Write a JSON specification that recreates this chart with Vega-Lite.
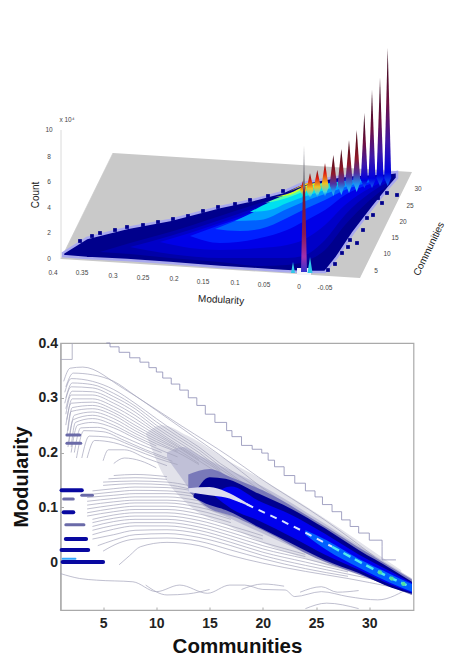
{
"$schema":"https://vega.github.io/schema/vega-lite/v6.json",
"padding":{"left":9.5,"top":0,"right":0,"bottom":0},
"bounds":"flush",
"spacing":8,
"config":{"view":{"stroke":null},"font":"Liberation Sans"},
"datasets":{
"plane":[{"x":61,"y":259,"y2":259},{"x":113,"y":153,"y2":262.3},{"x":360,"y":168.7,"y2":278},{"x":412,"y":172,"y2":172}],
"axis3d":[{"s":"z","x":61,"y":259},{"s":"z","x":61.01,"y":130},{"s":"b","x":61,"y":259},{"s":"b","x":113,"y":153}],
"wedge":[{"x":63,"y":253,"y2":256},{"x":87,"y":238,"y2":258},{"x":127,"y":228,"y2":260},{"x":170,"y":220,"y2":263},{"x":220,"y":207,"y2":267},{"x":253,"y":200,"y2":269},{"x":283,"y":192,"y2":271},{"x":303,"y":183,"y2":272},{"x":325,"y":179,"y2":272},{"x":337,"y":177,"y2":257},{"x":353,"y":175,"y2":233},{"x":373,"y":174,"y2":207},{"x":390,"y":173,"y2":186},{"x":397,"y":172,"y2":178}],
"dots":[{"x":80,"y":241},{"x":92,"y":236},{"x":100,"y":233},{"x":115,"y":230},{"x":127,"y":227},{"x":143,"y":225},{"x":158,"y":222},{"x":173,"y":219},{"x":188,"y":216},{"x":203,"y":211},{"x":218,"y":207},{"x":235,"y":204},{"x":250,"y":200},{"x":268,"y":196},{"x":348,"y":247},{"x":357,"y":243},{"x":363,"y":230},{"x":367,"y":218},{"x":373,"y":215},{"x":382,"y":203},{"x":387,"y":193},{"x":397,"y":195},{"x":378,"y":198},{"x":335,"y":264},{"x":328,"y":270},{"x":342,"y":253},{"x":350,"y":240},{"x":283,"y":191}],
"bands":[
{"s":"b01","x":100,"y":252,"y2":252},{"s":"b01","x":130,"y":243,"y2":254},{"s":"b01","x":170,"y":232,"y2":258},{"s":"b01","x":220,"y":216,"y2":262},{"s":"b01","x":260,"y":203,"y2":266},{"s":"b01","x":287,"y":195,"y2":265},{"s":"b01","x":303,"y":188,"y2":262},{"s":"b01","x":325,"y":182,"y2":250},{"s":"b01","x":345,"y":178,"y2":225},{"s":"b01","x":370,"y":176,"y2":200},{"s":"b01","x":390,"y":175,"y2":184},
{"s":"b02","x":130,"y":247,"y2":247},{"s":"b02","x":170,"y":236,"y2":254},{"s":"b02","x":220,"y":220,"y2":258},{"s":"b02","x":260,"y":206,"y2":258},{"s":"b02","x":287,"y":196,"y2":258},{"s":"b02","x":303,"y":189,"y2":256},{"s":"b02","x":325,"y":183,"y2":240},{"s":"b02","x":345,"y":179,"y2":215},{"s":"b02","x":370,"y":177,"y2":193},{"s":"b02","x":388,"y":176,"y2":182},
{"s":"b03","x":160,"y":242,"y2":242},{"s":"b03","x":190,"y":233,"y2":248},{"s":"b03","x":220,"y":223,"y2":250},{"s":"b03","x":260,"y":209,"y2":248},{"s":"b03","x":287,"y":197,"y2":245},{"s":"b03","x":303,"y":190,"y2":240},{"s":"b03","x":325,"y":184,"y2":225},{"s":"b03","x":345,"y":180,"y2":205},{"s":"b03","x":370,"y":178,"y2":188},{"s":"b03","x":385,"y":177,"y2":181},
{"s":"b04","x":190,"y":236,"y2":236},{"s":"b04","x":220,"y":225,"y2":243},{"s":"b04","x":260,"y":211,"y2":238},{"s":"b04","x":287,"y":198,"y2":230},{"s":"b04","x":303,"y":191,"y2":222},{"s":"b04","x":325,"y":185,"y2":210},{"s":"b04","x":345,"y":181,"y2":195},{"s":"b04","x":370,"y":179,"y2":184},
{"s":"b05","x":215,"y":229,"y2":229},{"s":"b05","x":240,"y":219,"y2":231},{"s":"b05","x":260,"y":211,"y2":229},{"s":"b05","x":287,"y":198,"y2":218},{"s":"b05","x":303,"y":192,"y2":210},{"s":"b05","x":325,"y":186,"y2":200},{"s":"b05","x":345,"y":182,"y2":190},{"s":"b05","x":370,"y":180,"y2":182},
{"s":"b06","x":235,"y":221,"y2":221},{"s":"b06","x":260,"y":209,"y2":220},{"s":"b06","x":287,"y":196,"y2":209},{"s":"b06","x":303,"y":190,"y2":202},{"s":"b06","x":325,"y":185,"y2":194},{"s":"b06","x":345,"y":181,"y2":187},{"s":"b06","x":365,"y":179,"y2":181},
{"s":"b07","x":250,"y":212,"y2":212},{"s":"b07","x":270,"y":202,"y2":210},{"s":"b07","x":287,"y":195,"y2":203},{"s":"b07","x":303,"y":189,"y2":197},{"s":"b07","x":325,"y":184,"y2":190},{"s":"b07","x":345,"y":181,"y2":184},
{"s":"b08","x":265,"y":203,"y2":203},{"s":"b08","x":280,"y":197,"y2":200},{"s":"b08","x":295,"y":192,"y2":195},{"s":"b08","x":310,"y":186,"y2":189},{"s":"b08","x":328,"y":182,"y2":184},
{"s":"b09","x":275,"y":197,"y2":197},{"s":"b09","x":290,"y":193,"y2":195},{"s":"b09","x":305,"y":186,"y2":188},{"s":"b09","x":318,"y":182,"y2":184},
{"s":"b10","x":288,"y":192,"y2":192},{"s":"b10","x":300,"y":186,"y2":187},{"s":"b10","x":312,"y":181,"y2":183}],
"spikeTall":[
{"s":"a","x":384.2,"y":178,"y2":178},{"s":"a","x":387.7,"y":48,"y2":186},{"s":"a","x":391.2,"y":178,"y2":178},
{"s":"b","x":376.5,"y":178,"y2":178},{"s":"b","x":380,"y":78,"y2":186},{"s":"b","x":383.5,"y":178,"y2":178},
{"s":"c","x":368.5,"y":180,"y2":180},{"s":"c","x":372,"y":90,"y2":188},{"s":"c","x":375.5,"y":180,"y2":180},
{"s":"d","x":360.8,"y":180,"y2":180},{"s":"d","x":364.3,"y":113,"y2":188},{"s":"d","x":367.8,"y":180,"y2":180}],
"spikeMid":[
{"s":"a","x":353,"y":182,"y2":182},{"s":"a","x":356.7,"y":130,"y2":192},{"s":"a","x":360.4,"y":182,"y2":182},
{"s":"b","x":345.3,"y":183,"y2":183},{"s":"b","x":349,"y":140,"y2":193},{"s":"b","x":352.7,"y":183,"y2":183},
{"s":"c","x":337.6,"y":185,"y2":185},{"s":"c","x":341.3,"y":149,"y2":195},{"s":"c","x":345,"y":185,"y2":185},
{"s":"d","x":329.6,"y":185,"y2":185},{"s":"d","x":333.3,"y":155,"y2":196},{"s":"d","x":337,"y":185,"y2":185}],
"spikeShort":[
{"s":"a","x":321.3,"y":187,"y2":187},{"s":"a","x":325,"y":163,"y2":197},{"s":"a","x":328.7,"y":187,"y2":187},
{"s":"b","x":313.6,"y":188,"y2":188},{"s":"b","x":317.3,"y":170,"y2":198},{"s":"b","x":321,"y":188,"y2":188},
{"s":"c","x":306.3,"y":190,"y2":190},{"s":"c","x":310,"y":173,"y2":199},{"s":"c","x":313.7,"y":190,"y2":190},
{"s":"d","x":300,"y":190,"y2":190},{"s":"d","x":303.3,"y":180,"y2":198},{"s":"d","x":306.6,"y":190,"y2":190}],
"gap":[{"x":297,"y":268,"y2":275},{"x":311,"y":268,"y2":275}],
"centerSpike":[{"x":301,"y":272,"y2":272},{"x":304,"y":145,"y2":272},{"x":307,"y":272,"y2":272}],
"cyanSpikes":[{"s":"a","x":291,"y":273,"y2":273},{"s":"a","x":293,"y":262,"y2":273},{"s":"a","x":295,"y":273,"y2":273},{"s":"b","x":307.5,"y":273,"y2":273},{"s":"b","x":310,"y":257,"y2":273},{"s":"b","x":312.5,"y":273,"y2":273}],
"labelsSmall":[{"x":49,"y":130,"t":"10"},{"x":49,"y":157,"t":"8"},{"x":49,"y":182,"t":"6"},{"x":49,"y":208,"t":"4"},{"x":49,"y":233,"t":"2"},{"x":49,"y":259,"t":"0"},{"x":67,"y":120,"t":"x 10⁴"},{"x":53,"y":273,"t":"0.4"},{"x":82,"y":273,"t":"0.35"},{"x":113,"y":276,"t":"0.3"},{"x":143,"y":278,"t":"0.25"},{"x":174,"y":279,"t":"0.2"},{"x":203,"y":282,"t":"0.15"},{"x":235,"y":283,"t":"0.1"},{"x":264,"y":285,"t":"0.05"},{"x":299,"y":287,"t":"0"},{"x":325,"y":288,"t":"-0.05"},{"x":376,"y":271,"t":"5"},{"x":387,"y":254,"t":"10"},{"x":395,"y":238,"t":"15"},{"x":403,"y":222,"t":"20"},{"x":410,"y":206,"t":"25"},{"x":418,"y":189,"t":"30"}],
"contours":[
{"s":"A1","c":1.3,"m":0.33},{"s":"A1","c":1.9,"m":0.354},{"s":"A1","c":3.1,"m":0.356},{"s":"A1","c":6.9,"m":0.317},{"s":"A1","c":9.4,"m":0.286},{"s":"A1","c":12.5,"m":0.247},{"s":"A1","c":16.9,"m":0.192},{"s":"A1","c":19.6,"m":0.155},{"s":"A1","c":25.8,"m":0.077},{"s":"A1","c":30.5,"m":0.01},
{"s":"A2","c":1.4,"m":0.31},{"s":"A2","c":2,"m":0.335},{"s":"A2","c":4,"m":0.33},{"s":"A2","c":6,"m":0.315},{"s":"A2","c":8,"m":0.29},{"s":"A2","c":10,"m":0.262},{"s":"A2","c":12,"m":0.235},{"s":"A2","c":14,"m":0.21},{"s":"A2","c":16,"m":0.18},{"s":"A2","c":18,"m":0.155},{"s":"A2","c":22,"m":0.1},{"s":"A2","c":27,"m":0.04},
{"s":"A3","c":1.4,"m":0.29},{"s":"A3","c":2,"m":0.32},{"s":"A3","c":4,"m":0.318},{"s":"A3","c":6,"m":0.302},{"s":"A3","c":8,"m":0.28},{"s":"A3","c":10,"m":0.25},{"s":"A3","c":12,"m":0.225},{"s":"A3","c":14,"m":0.2},{"s":"A3","c":16,"m":0.17},{"s":"A3","c":18,"m":0.145},{"s":"A3","c":22,"m":0.09},
{"s":"A4","c":1.5,"m":0.27},{"s":"A4","c":2,"m":0.305},{"s":"A4","c":4,"m":0.305},{"s":"A4","c":6,"m":0.29},{"s":"A4","c":8,"m":0.268},{"s":"A4","c":10,"m":0.24},{"s":"A4","c":12,"m":0.215},{"s":"A4","c":14,"m":0.19},{"s":"A4","c":16,"m":0.165},{"s":"A4","c":18,"m":0.135},
{"s":"A5","c":1.5,"m":0.25},{"s":"A5","c":2,"m":0.29},{"s":"A5","c":4,"m":0.292},{"s":"A5","c":6,"m":0.278},{"s":"A5","c":8,"m":0.256},{"s":"A5","c":10,"m":0.232},{"s":"A5","c":12,"m":0.21},{"s":"A5","c":14,"m":0.185},{"s":"A5","c":16,"m":0.16},
{"s":"A6","c":1.6,"m":0.23},{"s":"A6","c":2,"m":0.275},{"s":"A6","c":4,"m":0.28},{"s":"A6","c":6,"m":0.268},{"s":"A6","c":8,"m":0.245},{"s":"A6","c":10,"m":0.224},{"s":"A6","c":12,"m":0.205},{"s":"A6","c":14,"m":0.18},
{"s":"A7","c":1.7,"m":0.21},{"s":"A7","c":2.2,"m":0.26},{"s":"A7","c":4,"m":0.268},{"s":"A7","c":6,"m":0.256},{"s":"A7","c":8,"m":0.235},{"s":"A7","c":10,"m":0.216},{"s":"A7","c":12,"m":0.2},{"s":"A7","c":14,"m":0.178},
{"s":"A8","c":2,"m":0.2},{"s":"A8","c":2.6,"m":0.25},{"s":"A8","c":4,"m":0.255},{"s":"A8","c":6,"m":0.245},{"s":"A8","c":8,"m":0.226},{"s":"A8","c":10,"m":0.208},{"s":"A8","c":12,"m":0.192},
{"s":"A9","c":2.5,"m":0.19},{"s":"A9","c":3.2,"m":0.24},{"s":"A9","c":5,"m":0.238},{"s":"A9","c":7,"m":0.222},{"s":"A9","c":9,"m":0.205},{"s":"A9","c":11,"m":0.19},
{"s":"A10","c":3.5,"m":0.19},{"s":"A10","c":4.2,"m":0.222},{"s":"A10","c":6,"m":0.218},{"s":"A10","c":8,"m":0.205},{"s":"A10","c":10,"m":0.19},{"s":"A10","c":12,"m":0.178},
{"s":"A11","c":5,"m":0.185},{"s":"A11","c":5.5,"m":0.205},{"s":"A11","c":7,"m":0.205},{"s":"A11","c":9,"m":0.19},{"s":"A11","c":11,"m":0.176},
{"s":"A12","c":6,"m":0.18},{"s":"A12","c":7,"m":0.19},{"s":"A12","c":8.5,"m":0.185},{"s":"A12","c":10,"m":0.172},
{"s":"U1","c":1.5,"m":0.32},{"s":"U1","c":2.2,"m":0.345},{"s":"U1","c":4,"m":0.342},{"s":"U1","c":6,"m":0.33},{"s":"U1","c":8,"m":0.304},{"s":"U1","c":10,"m":0.277},{"s":"U1","c":13,"m":0.236},{"s":"U1","c":16,"m":0.195},{"s":"U1","c":20,"m":0.135},{"s":"U1","c":25,"m":0.07},
{"s":"U2","c":1.5,"m":0.3},{"s":"U2","c":2.1,"m":0.327},{"s":"U2","c":4,"m":0.324},{"s":"U2","c":6,"m":0.308},{"s":"U2","c":8,"m":0.285},{"s":"U2","c":10,"m":0.256},{"s":"U2","c":12,"m":0.23},{"s":"U2","c":14,"m":0.205},{"s":"U2","c":16,"m":0.175},{"s":"U2","c":20,"m":0.12},
{"s":"U3","c":1.5,"m":0.28},{"s":"U3","c":2.1,"m":0.312},{"s":"U3","c":4,"m":0.311},{"s":"U3","c":6,"m":0.296},{"s":"U3","c":8,"m":0.274},{"s":"U3","c":10,"m":0.245},{"s":"U3","c":12,"m":0.22},{"s":"U3","c":14,"m":0.195},{"s":"U3","c":16,"m":0.167},
{"s":"U4","c":1.6,"m":0.26},{"s":"U4","c":2.1,"m":0.298},{"s":"U4","c":4,"m":0.298},{"s":"U4","c":6,"m":0.284},{"s":"U4","c":8,"m":0.262},{"s":"U4","c":10,"m":0.236},{"s":"U4","c":12,"m":0.212},{"s":"U4","c":14,"m":0.187},
{"s":"U5","c":1.7,"m":0.24},{"s":"U5","c":2.1,"m":0.282},{"s":"U5","c":4,"m":0.286},{"s":"U5","c":6,"m":0.273},{"s":"U5","c":8,"m":0.25},{"s":"U5","c":10,"m":0.228},{"s":"U5","c":12,"m":0.207},
{"s":"U6","c":1.8,"m":0.22},{"s":"U6","c":2.3,"m":0.268},{"s":"U6","c":4,"m":0.274},{"s":"U6","c":6,"m":0.262},{"s":"U6","c":8,"m":0.24},{"s":"U6","c":10,"m":0.22},{"s":"U6","c":12,"m":0.202},
{"s":"U7","c":2,"m":0.21},{"s":"U7","c":2.4,"m":0.255},{"s":"U7","c":4,"m":0.262},{"s":"U7","c":6,"m":0.25},{"s":"U7","c":8,"m":0.23},{"s":"U7","c":10,"m":0.212},
{"s":"U8","c":2.3,"m":0.2},{"s":"U8","c":2.9,"m":0.245},{"s":"U8","c":4.5,"m":0.246},{"s":"U8","c":6.5,"m":0.232},{"s":"U8","c":8.5,"m":0.215},{"s":"U8","c":10.5,"m":0.2},
{"s":"U9","c":3,"m":0.19},{"s":"U9","c":3.7,"m":0.23},{"s":"U9","c":5.5,"m":0.228},{"s":"U9","c":7.5,"m":0.214},{"s":"U9","c":9.5,"m":0.198},{"s":"U9","c":11.5,"m":0.184},
{"s":"L1","c":6.5,"m":-0.005},{"s":"L1","c":7.5,"m":0.012},{"s":"L1","c":8.5,"m":0.028},{"s":"L1","c":11,"m":0.036},{"s":"L1","c":14,"m":0.03},{"s":"L1","c":17,"m":0.012},{"s":"L1","c":20,"m":-0.002},{"s":"L1","c":24,"m":-0.017},{"s":"L1","c":28,"m":-0.03},{"s":"L1","c":32,"m":-0.045},
{"s":"L2","c":4.5,"m":0.03},{"s":"L2","c":6,"m":0.04},{"s":"L2","c":8,"m":0.05},{"s":"L2","c":11,"m":0.052},{"s":"L2","c":14,"m":0.045},{"s":"L2","c":17,"m":0.03},{"s":"L2","c":20,"m":0.012},{"s":"L2","c":24,"m":-0.006},{"s":"L2","c":28,"m":-0.022},{"s":"L2","c":31,"m":-0.034},
{"s":"L3","c":4,"m":0.05},{"s":"L3","c":6,"m":0.06},{"s":"L3","c":8,"m":0.066},{"s":"L3","c":11,"m":0.066},{"s":"L3","c":14,"m":0.058},{"s":"L3","c":17,"m":0.042},{"s":"L3","c":20,"m":0.024},{"s":"L3","c":24,"m":0.006},{"s":"L3","c":28,"m":-0.014},
{"s":"L4","c":4,"m":0.065},{"s":"L4","c":6,"m":0.074},{"s":"L4","c":8,"m":0.078},{"s":"L4","c":11,"m":0.078},{"s":"L4","c":14,"m":0.07},{"s":"L4","c":17,"m":0.054},{"s":"L4","c":20,"m":0.036},{"s":"L4","c":24,"m":0.014},
{"s":"L5","c":4,"m":0.078},{"s":"L5","c":6,"m":0.086},{"s":"L5","c":8,"m":0.09},{"s":"L5","c":11,"m":0.09},{"s":"L5","c":14,"m":0.082},{"s":"L5","c":17,"m":0.066},{"s":"L5","c":20,"m":0.048},
{"s":"L6","c":3.5,"m":0.09},{"s":"L6","c":6,"m":0.098},{"s":"L6","c":8,"m":0.102},{"s":"L6","c":11,"m":0.102},{"s":"L6","c":14,"m":0.094},{"s":"L6","c":17,"m":0.078},
{"s":"L7","c":3.5,"m":0.104},{"s":"L7","c":6,"m":0.11},{"s":"L7","c":8,"m":0.113},{"s":"L7","c":11,"m":0.113},{"s":"L7","c":14,"m":0.106},{"s":"L7","c":17,"m":0.09},
{"s":"L8","c":3.5,"m":0.118},{"s":"L8","c":6,"m":0.122},{"s":"L8","c":8,"m":0.125},{"s":"L8","c":11,"m":0.125},{"s":"L8","c":14,"m":0.118},{"s":"L8","c":16,"m":0.108},
{"s":"L9","c":4,"m":0.13},{"s":"L9","c":6,"m":0.134},{"s":"L9","c":8,"m":0.137},{"s":"L9","c":11,"m":0.136},{"s":"L9","c":14,"m":0.128},
{"s":"L10","c":5,"m":0.146},{"s":"L10","c":8,"m":0.148},{"s":"L10","c":11,"m":0.146},{"s":"L10","c":13,"m":0.14},
{"s":"L11","c":6,"m":0.158},{"s":"L11","c":8,"m":0.16},{"s":"L11","c":11,"m":0.156},
{"s":"M1","c":5,"m":0.02},{"s":"M1","c":6.5,"m":0.035},{"s":"M1","c":8,"m":0.042},{"s":"M1","c":11,"m":0.044},{"s":"M1","c":14,"m":0.038},{"s":"M1","c":17,"m":0.022},{"s":"M1","c":20,"m":0.006},{"s":"M1","c":24,"m":-0.012},{"s":"M1","c":28,"m":-0.026},
{"s":"M2","c":4,"m":0.042},{"s":"M2","c":6,"m":0.05},{"s":"M2","c":8,"m":0.058},{"s":"M2","c":11,"m":0.059},{"s":"M2","c":14,"m":0.052},{"s":"M2","c":17,"m":0.036},{"s":"M2","c":20,"m":0.018},{"s":"M2","c":24,"m":0},{"s":"M2","c":28,"m":-0.018},
{"s":"M3","c":4,"m":0.058},{"s":"M3","c":6,"m":0.067},{"s":"M3","c":8,"m":0.072},{"s":"M3","c":11,"m":0.072},{"s":"M3","c":14,"m":0.064},{"s":"M3","c":17,"m":0.048},{"s":"M3","c":20,"m":0.03},{"s":"M3","c":24,"m":0.01},
{"s":"M4","c":4,"m":0.072},{"s":"M4","c":6,"m":0.08},{"s":"M4","c":8,"m":0.084},{"s":"M4","c":11,"m":0.084},{"s":"M4","c":14,"m":0.076},{"s":"M4","c":17,"m":0.06},{"s":"M4","c":20,"m":0.042},
{"s":"M5","c":3.5,"m":0.084},{"s":"M5","c":6,"m":0.092},{"s":"M5","c":8,"m":0.096},{"s":"M5","c":11,"m":0.096},{"s":"M5","c":14,"m":0.088},{"s":"M5","c":17,"m":0.072},
{"s":"M6","c":3.5,"m":0.097},{"s":"M6","c":6,"m":0.104},{"s":"M6","c":8,"m":0.108},{"s":"M6","c":11,"m":0.108},{"s":"M6","c":14,"m":0.1},{"s":"M6","c":17,"m":0.084},
{"s":"M7","c":3.5,"m":0.111},{"s":"M7","c":6,"m":0.116},{"s":"M7","c":8,"m":0.119},{"s":"M7","c":11,"m":0.119},{"s":"M7","c":14,"m":0.112},
{"s":"M8","c":4,"m":0.124},{"s":"M8","c":6,"m":0.128},{"s":"M8","c":8,"m":0.131},{"s":"M8","c":11,"m":0.13},{"s":"M8","c":14,"m":0.123},
{"s":"M9","c":5,"m":0.14},{"s":"M9","c":8,"m":0.143},{"s":"M9","c":11,"m":0.141},{"s":"M9","c":13,"m":0.134},
{"s":"M10","c":5.5,"m":0.152},{"s":"M10","c":8,"m":0.154},{"s":"M10","c":11,"m":0.151},
{"s":"O2","c":1,"m":-0.021},{"s":"O2","c":2.8,"m":-0.03},{"s":"O2","c":4.4,"m":-0.033},{"s":"O2","c":7.8,"m":-0.036},{"s":"O2","c":10,"m":-0.054},{"s":"O2","c":12.2,"m":-0.042},{"s":"O2","c":14.8,"m":-0.057},{"s":"O2","c":16.9,"m":-0.042},{"s":"O2","c":18.3,"m":-0.042},{"s":"O2","c":20,"m":-0.05},{"s":"O2","c":22.1,"m":-0.051},{"s":"O2","c":23,"m":-0.063},{"s":"O2","c":25.5,"m":-0.054},{"s":"O2","c":28,"m":-0.063},{"s":"O2","c":30.8,"m":-0.069},{"s":"O2","c":33.9,"m":-0.045},
{"s":"O3","c":9,"m":-0.042},{"s":"O3","c":11,"m":-0.06},{"s":"O3","c":13,"m":-0.058},{"s":"O3","c":15,"m":-0.05},
{"s":"O4","c":18,"m":-0.05},{"s":"O4","c":20,"m":-0.04},{"s":"O4","c":22,"m":-0.044},
{"s":"O5","c":23.5,"m":-0.055},{"s":"O5","c":25.5,"m":-0.045},{"s":"O5","c":27,"m":-0.055},{"s":"O5","c":29,"m":-0.052},
{"s":"O6","c":24,"m":-0.085},{"s":"O6","c":26,"m":-0.075},{"s":"O6","c":29,"m":-0.085}
],
"stair":[{"c":5.3,"m":0.4},{"c":5.65,"m":0.393},{"c":6.5,"m":0.383},{"c":7.5,"m":0.373},{"c":8.46,"m":0.365},{"c":9.3,"m":0.355},{"c":10,"m":0.347},{"c":10.6,"m":0.336},{"c":11.4,"m":0.325},{"c":12.2,"m":0.314},{"c":13,"m":0.3},{"c":13.8,"m":0.286},{"c":14.6,"m":0.27},{"c":15.5,"m":0.255},{"c":16.6,"m":0.24},{"c":17.1,"m":0.229},{"c":18,"m":0.213},{"c":19,"m":0.206},{"c":19.9,"m":0.199},{"c":20.5,"m":0.186},{"c":21.1,"m":0.174},{"c":22,"m":0.158},{"c":23,"m":0.144},{"c":24,"m":0.13},{"c":24.9,"m":0.119},{"c":25.6,"m":0.105},{"c":26.5,"m":0.092},{"c":27.4,"m":0.077},{"c":28.2,"m":0.065},{"c":29,"m":0.053},{"c":30,"m":0.04},{"c":31.2,"m":0.028},{"c":31.2,"m":0.004},{"c":32.5,"m":0.004}],
"box":[{"c":1,"m":0.37},{"c":2.1,"m":0.37},{"c":2.1,"m":0.4}],
"hazeL":[{"c":9,"y":0.235,"y2":0.235},{"c":10.5,"y":0.25,"y2":0.165},{"c":13,"y":0.23,"y2":0.105},{"c":16.9,"y":0.183,"y2":0.065},{"c":20,"y":0.15,"y2":0.035},{"c":25,"y":0.09,"y2":0.0},{"c":30,"y":0.025,"y2":-0.03},{"c":33,"y":-0.015,"y2":-0.052}],
"hazeM":[{"c":11,"y":0.2,"y2":0.19},{"c":12.5,"y":0.21,"y2":0.15},{"c":14,"y":0.195,"y2":0.11},{"c":16.9,"y":0.168,"y2":0.08},{"c":20,"y":0.138,"y2":0.052},{"c":25,"y":0.08,"y2":0.008},{"c":30,"y":0.018,"y2":-0.028},{"c":34,"y":-0.03,"y2":-0.06}],
"hazeD":[{"c":13,"y":0.16,"y2":0.13},{"c":15,"y":0.17,"y2":0.098},{"c":17,"y":0.155,"y2":0.085},{"c":20,"y":0.131,"y2":0.058},{"c":25,"y":0.075,"y2":0.007},{"c":30,"y":0.015,"y2":-0.03},{"c":34,"y":-0.032,"y2":-0.06}],
"dark":[{"c":13.5,"y":0.122,"y2":0.118},{"c":15,"y":0.155,"y2":0.104},{"c":16.5,"y":0.152,"y2":0.095},{"c":19.6,"y":0.125,"y2":0.064},{"c":22.7,"y":0.097,"y2":0.034},{"c":25.8,"y":0.062,"y2":0.004},{"c":29,"y":0.022,"y2":-0.02},{"c":32.1,"y":-0.013,"y2":-0.047},{"c":34,"y":-0.036,"y2":-0.058}],
"blue":[{"c":15.5,"y":0.125,"y2":0.12},{"c":17,"y":0.138,"y2":0.098},{"c":19.6,"y":0.112,"y2":0.076},{"c":22.7,"y":0.086,"y2":0.046},{"c":25.8,"y":0.052,"y2":0.014},{"c":29,"y":0.014,"y2":-0.014},{"c":32.1,"y":-0.018,"y2":-0.042},{"c":34,"y":-0.038,"y2":-0.056}],
"lens":[{"c":13,"y":0.135,"y2":0.128},{"c":15,"y":0.137,"y2":0.122},{"c":16.5,"y":0.129,"y2":0.118},{"c":18,"y":0.114,"y2":0.108},{"c":19,"y":0.102,"y2":0.1}],
"bright":[{"c":24,"y":0.058,"y2":0.05},{"c":26,"y":0.04,"y2":0.022},{"c":29,"y":0.006,"y2":-0.01},{"c":32,"y":-0.022,"y2":-0.038},{"c":34,"y":-0.04,"y2":-0.054}],
"centerA":[{"c":17.4,"m":0.116},{"c":19.3,"m":0.098},{"c":21.5,"m":0.078},{"c":23.6,"m":0.058},{"c":26.5,"m":0.028}],
"centerB":[{"c":26.5,"m":0.028},{"c":29.6,"m":-0.005},{"c":32.1,"m":-0.03},{"c":33.5,"m":-0.042}],
"blobDark":[{"a":1.2,"b":5,"m":0.0},{"a":1.1,"b":3.6,"m":0.022},{"a":1.5,"b":3.4,"m":0.042},{"a":1.3,"b":2.2,"m":0.091},{"a":1.1,"b":3,"m":0.131}],
"blobFaint":[{"a":1.5,"b":3.2,"m":0.068},{"a":1.6,"b":2.9,"m":0.217},{"a":1.6,"b":2.8,"m":0.232},{"a":1.3,"b":2.2,"m":0.115},{"a":3,"b":4,"m":0.122}],
"blobCyan":[{"a":1.2,"b":2.4,"m":0.006}],
"ends":[{"c":33.2,"m":-0.04},{"c":32.1,"m":-0.03},{"c":31,"m":-0.019}]
},
"vconcat":[
{"width":353,"height":335,
"encoding":{"x":{"field":"x","type":"quantitative","scale":{"domain":[60.5,413.5],"nice":false,"zero":false},"axis":null},
"y":{"field":"y","type":"quantitative","scale":{"domain":[335,0],"nice":false,"zero":false},"axis":null}},
"layer":[
{"data":{"name":"axis3d"},"mark":{"type":"line","color":"#d0d0d0","strokeWidth":0.8},"encoding":{"detail":{"field":"s"}}},
{"data":{"name":"plane"},"mark":{"type":"area","color":"#c9c9c9"},"encoding":{"y2":{"field":"y2"}}},
{"data":{"name":"wedge"},"mark":{"type":"area","color":"#00008c","stroke":"#a8a8ee","strokeWidth":2.5},"encoding":{"y2":{"field":"y2"}}},
{"data":{"name":"dots"},"mark":{"type":"point","shape":"square","filled":true,"color":"#00008c","size":14,"opacity":1},"encoding":{}},
{"data":{"name":"bands"},"mark":{"type":"area","interpolate":"monotone"},"encoding":{"y2":{"field":"y2"},"color":{"field":"s","type":"nominal","legend":null,"scale":{"domain":["b01","b02","b03","b04","b05","b06","b07","b08","b09","b10"],"range":["#0000a8","#0000c8","#0000e8","#0020ff","#0060ff","#00a0ff","#00e0f0","#50ffb0","#c8ff30","#ffe020"]}},"order":{"field":"s"}}},
{"data":{"name":"spikeShort"},"mark":{"type":"area","color":{"gradient":"linear","x1":0,"y1":0,"x2":0,"y2":1,"stops":[{"offset":0,"color":"#701018"},{"offset":0.3,"color":"#e02010"},{"offset":0.6,"color":"#f0c020"},{"offset":0.85,"color":"#40d8e0"},{"offset":1,"color":"#0060ff"}]}},"encoding":{"y2":{"field":"y2"},"detail":{"field":"s"}}},
{"data":{"name":"spikeMid"},"mark":{"type":"area","color":{"gradient":"linear","x1":0,"y1":0,"x2":0,"y2":1,"stops":[{"offset":0,"color":"#400818"},{"offset":0.45,"color":"#901828"},{"offset":0.7,"color":"#5030a0"},{"offset":0.87,"color":"#2090f0"},{"offset":1,"color":"#30c0f0"}]}},"encoding":{"y2":{"field":"y2"},"detail":{"field":"s"}}},
{"data":{"name":"spikeTall"},"mark":{"type":"area","color":{"gradient":"linear","x1":0,"y1":0,"x2":0,"y2":1,"stops":[{"offset":0,"color":"#300818"},{"offset":0.4,"color":"#701040"},{"offset":0.68,"color":"#4018a8"},{"offset":0.9,"color":"#0000e0"},{"offset":1,"color":"#1060f0"}]}},"encoding":{"y2":{"field":"y2"},"detail":{"field":"s"}}},
{"data":{"name":"gap"},"mark":{"type":"area","color":"#f4f4fa"},"encoding":{"y2":{"field":"y2"}}},
{"data":{"name":"cyanSpikes"},"mark":{"type":"area","color":"#30c8e8"},"encoding":{"y2":{"field":"y2"},"detail":{"field":"s"}}},
{"data":{"name":"centerSpike"},"mark":{"type":"area","color":{"gradient":"linear","x1":0,"y1":0,"x2":0,"y2":1,"stops":[{"offset":0,"color":"#a0a0a8"},{"offset":0.33,"color":"#707078"},{"offset":0.37,"color":"#701530"},{"offset":0.7,"color":"#8a1a50"},{"offset":0.88,"color":"#a030b0"},{"offset":1,"color":"#3030d0"}]}},"encoding":{"y2":{"field":"y2"}}},
{"data":{"name":"labelsSmall"},"mark":{"type":"text","fontSize":6.5,"color":"#444444","align":"center","baseline":"middle"},"encoding":{"text":{"field":"t"}}},
{"data":{"values":[{"x":36,"y":195,"t":"Count"}]},"mark":{"type":"text","fontSize":10,"color":"#222222","angle":270,"align":"center","baseline":"middle"},"encoding":{"text":{"field":"t"}}},
{"data":{"values":[{"x":221,"y":300,"t":"Modularity"}]},"mark":{"type":"text","fontSize":10,"color":"#222222","angle":3,"align":"center","baseline":"middle"},"encoding":{"text":{"field":"t"}}},
{"data":{"values":[{"x":429,"y":249,"t":"Communities"}]},"mark":{"type":"text","fontSize":10,"color":"#222222","angle":296,"align":"center","baseline":"middle"},"encoding":{"text":{"field":"t"}}}
]},
{"width":353,"height":267,
"layer":[
{"data":{"name":"hazeL"},"mark":{"type":"area","color":"#e2e2ea","interpolate":"monotone"},"encoding":{"x":{"field":"c","type":"quantitative","title":"Communities","scale":{"domain":[1,34.15],"nice":false,"zero":false},"axis":{"values":[5,10,15,20,25,30],"domainColor":"#aaaaaa","domainWidth":1.2,"tickColor":"#aaaaaa","tickSize":-3,"grid":false,"labelFont":"Liberation Sans","labelFontWeight":"bold","labelFontSize":14,"labelColor":"#222222","labelPadding":9,"titleFont":"Liberation Sans","titleFontWeight":"bold","titleFontSize":20.5,"titleColor":"#111111","titlePadding":6}},"y":{"field":"y","type":"quantitative","title":"Modularity","scale":{"domain":[-0.0875,0.4],"nice":false,"zero":false},"axis":{"values":[0,0.1,0.2,0.3,0.4],"format":".1~f","domainColor":"#aaaaaa","domainWidth":1.2,"tickColor":"#aaaaaa","tickSize":-3,"grid":false,"labelFont":"Liberation Sans","labelFontWeight":"bold","labelFontSize":14,"labelColor":"#222222","labelPadding":6,"titleFont":"Liberation Sans","titleFontWeight":"bold","titleFontSize":20,"titleColor":"#111111","titlePadding":7}},"y2":{"field":"y2"}}},
{"data":{"name":"hazeM"},"mark":{"type":"area","color":"#b8b8d2","opacity":0.8,"interpolate":"monotone"},"encoding":{"x":{"field":"c","type":"quantitative"},"y":{"field":"y","type":"quantitative"},"y2":{"field":"y2"}}},
{"data":{"name":"contours"},"mark":{"type":"line","color":"#a4a4ba","strokeWidth":0.7,"interpolate":"monotone"},"encoding":{"x":{"field":"c","type":"quantitative"},"y":{"field":"m","type":"quantitative"},"detail":{"field":"s"}}},
{"data":{"name":"stair"},"mark":{"type":"line","color":"#8c8cb4","strokeWidth":0.8,"interpolate":"step-after"},"encoding":{"x":{"field":"c","type":"quantitative"},"y":{"field":"m","type":"quantitative"}}},
{"data":{"name":"box"},"mark":{"type":"line","color":"#a4a4ba","strokeWidth":0.8},"encoding":{"x":{"field":"c","type":"quantitative"},"y":{"field":"m","type":"quantitative"}}},
{"data":{"name":"hazeD"},"mark":{"type":"area","color":"#6c6cb4","opacity":0.85,"interpolate":"monotone"},"encoding":{"x":{"field":"c","type":"quantitative"},"y":{"field":"y","type":"quantitative"},"y2":{"field":"y2"}}},
{"data":{"name":"dark"},"mark":{"type":"area","color":"#000090","interpolate":"monotone"},"encoding":{"x":{"field":"c","type":"quantitative"},"y":{"field":"y","type":"quantitative"},"y2":{"field":"y2"}}},
{"data":{"name":"blue"},"mark":{"type":"area","color":"#0000ee","interpolate":"monotone"},"encoding":{"x":{"field":"c","type":"quantitative"},"y":{"field":"y","type":"quantitative"},"y2":{"field":"y2"}}},
{"data":{"name":"lens"},"mark":{"type":"area","color":"#dcdcee","interpolate":"monotone"},"encoding":{"x":{"field":"c","type":"quantitative"},"y":{"field":"y","type":"quantitative"},"y2":{"field":"y2"}}},
{"data":{"name":"bright"},"mark":{"type":"area","color":"#0060ff","interpolate":"monotone"},"encoding":{"x":{"field":"c","type":"quantitative"},"y":{"field":"y","type":"quantitative"},"y2":{"field":"y2"}}},
{"data":{"name":"centerA"},"mark":{"type":"line","color":"#d8e4ff","strokeWidth":2,"strokeDash":[7,6]},"encoding":{"x":{"field":"c","type":"quantitative"},"y":{"field":"m","type":"quantitative"}}},
{"data":{"name":"centerB"},"mark":{"type":"line","color":"#50e8f0","strokeWidth":2.5,"strokeDash":[8,5]},"encoding":{"x":{"field":"c","type":"quantitative"},"y":{"field":"m","type":"quantitative"}}},
{"data":{"name":"ends"},"mark":{"type":"point","filled":true,"color":"#50e0a0","size":18,"opacity":1},"encoding":{"x":{"field":"c","type":"quantitative"},"y":{"field":"m","type":"quantitative"}}},
{"data":{"name":"blobFaint"},"mark":{"type":"rule","color":"#6a6aa8","strokeWidth":3,"strokeCap":"round"},"encoding":{"x":{"field":"a","type":"quantitative"},"x2":{"field":"b"},"y":{"field":"m","type":"quantitative"}}},
{"data":{"name":"blobDark"},"mark":{"type":"rule","color":"#0808a0","strokeWidth":4,"strokeCap":"round"},"encoding":{"x":{"field":"a","type":"quantitative"},"x2":{"field":"b"},"y":{"field":"m","type":"quantitative"}}},
{"data":{"name":"blobCyan"},"mark":{"type":"rule","color":"#30a8ff","strokeWidth":2,"strokeCap":"round"},"encoding":{"x":{"field":"a","type":"quantitative"},"x2":{"field":"b"},"y":{"field":"m","type":"quantitative"}}}
],
"view":{"stroke":"#aaaaaa","strokeWidth":1.2}}
]
}
